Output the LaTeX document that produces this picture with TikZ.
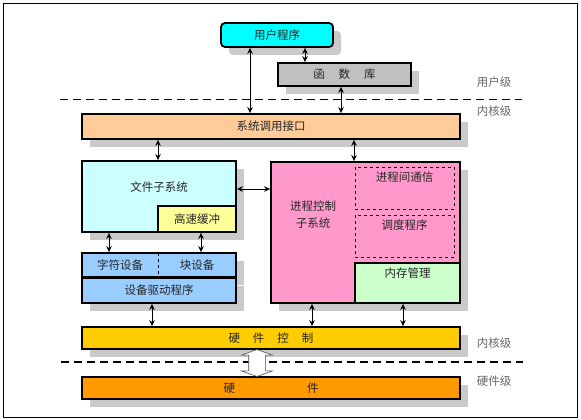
\documentclass[tikz,border=0pt]{standalone}
\usepackage{fontspec}
\setmainfont{Noto Sans CJK SC}
\usepackage{tikz}
\usetikzlibrary{arrows,shapes}
\usetikzlibrary{arrows.meta}
\usetikzlibrary{shapes.arrows}
\usetikzlibrary{shadows}
\definecolor{usercyan}{HTML}{00FFFF}
\definecolor{libgray}{HTML}{C0C0C0}
\definecolor{syspeach}{HTML}{FFCC99}
\definecolor{filecyan}{HTML}{CCFFFF}
\definecolor{cacheyellow}{HTML}{FFFF99}
\definecolor{procpink}{HTML}{FF99CC}
\definecolor{memgreen}{HTML}{CCFFCC}
\definecolor{devblue}{HTML}{99CCFF}
\definecolor{hwgold}{HTML}{FFCC00}
\definecolor{hworange}{HTML}{FF9900}
\definecolor{shadowgray}{HTML}{CACACA}
\tikzset{
	box/.style={draw=black, line width=1.8pt, inner sep=0pt,
		drop shadow={shadow xshift=8pt, shadow yshift=-8pt, fill=shadowgray, opacity=1}},
	innerbox/.style={draw=black, line width=1.8pt, inner sep=0pt},
	dashbox/.style={draw=black, dashed, line width=0.8pt, inner sep=0pt},
	toptext/.style={label={[anchor=north, inner sep=5pt, text=black!85]north:#1}},
	link/.style={{Stealth[length=6pt, width=5.5pt]}-{Stealth[length=6pt, width=5.5pt]}, line width=1pt},
	sepline/.style={line width=1.6pt, dash pattern=on 8pt off 5pt},
	level/.style={text=black!60},
}

\begin{document}
\begin{tikzpicture}[x=1pt, y=-1pt, font=\fontsize{11.5}{13}\selectfont, text=black!85]
		\useasboundingbox (0, 0) rectangle (581, 420);
		\draw [line width=0.8pt] (3, 3) rectangle (577, 417);
		% User level
		\node [box, rounded corners=4pt, fill=usercyan, minimum width=112pt, minimum height=24pt] (user) at (277, 35) {用户程序};
		\node [box, fill=libgray, minimum width=133pt, minimum height=23pt] (lib) at (344.5, 74.5) {函\hspace{14pt}数\hspace{14pt}库};
		\node [level] (ulevel) at (494, 82) {用户级};
		\draw [sepline] (60, 99.5) -- (522, 99.5);
		\node [level] (klevel) at (494, 111) {内核级};
		% System call interface
		\node [box, fill=syspeach, minimum width=378pt, minimum height=25pt] (sys) at (271, 126.5) {系统调用接口};
		% File subsystem
		\node [box, fill=filecyan, minimum width=154pt, minimum height=71pt] (file) at (159, 196.5) {};
		\node (filetext) at ([yshift=9.5pt]file.center) {文件子系统};
		\node [innerbox, fill=cacheyellow, minimum width=78pt, minimum height=26pt] (cache) at (197, 219) {高速缓冲};
		% Devices
		\node [box, fill=devblue, minimum width=154pt, minimum height=24pt] (devs) at (159, 265) {};
		\node [minimum width=76pt, minimum height=24pt, inner sep=0pt] (chardev) at (120, 265) {字符设备};
		\node (blockdev) at (197, 265) {块设备};
		\draw [dashed, line width=0.8pt] (chardev.north east) -- (chardev.south east);
		\node [box, fill=devblue, minimum width=154pt, minimum height=25pt] (driver) at (159, 290.5) {设备驱动程序};
		% Process control subsystem
		\node [box, fill=procpink, minimum width=189pt, minimum height=141pt] (proc) at (365.5, 232.5) {};
		\node [align=center] (proctext) at (313, 214.5) {进程控制\\[4pt]子系统};
		\node [dashbox, minimum width=99pt, minimum height=42pt, toptext=进程间通信] (ipc) at (404.5, 188) {};
		\node [dashbox, minimum width=99pt, minimum height=42pt, toptext=调度程序] (sched) at (404.5, 236) {};
		\node [innerbox, fill=memgreen, minimum width=105pt, minimum height=40pt, toptext=内存管理] (mem) at (407.5, 283) {};
		% Hardware control
		\node [box, fill=hwgold, minimum width=378pt, minimum height=22pt] (hwctrl) at (271, 338) {硬\hspace{13pt}件\hspace{13pt}控\hspace{13pt}制};
		\node [level] (klevel2) at (494, 343) {内核级};
		\draw [sepline] (61, 362) -- (523, 362);
		\node [level] (hwlevel) at (494, 381) {硬件级};
		% Hardware
		\node [box, fill=hworange, minimum width=378pt, minimum height=22pt] (hw) at (271, 388) {硬\hspace{72pt}件};
		% Links
		\draw [link] ([xshift=-27pt]user.south) -- ([xshift=-21pt]sys.north);
		\draw [link] ([xshift=28pt]user.south) -- ([xshift=-39.5pt]lib.north);
		\draw [link] ([xshift=-3.5pt]lib.south) -- ([xshift=70pt]sys.north);
		\draw [link] ([xshift=-113pt]sys.south) -- ([xshift=-1pt]file.north);
		\draw [link] ([xshift=83pt]sys.south) -- ([xshift=-11.5pt]proc.north);
		\draw [link] ([yshift=7.5pt]file.east) -- ([yshift=43.5pt]proc.west);
		\draw [link] ([xshift=-50pt]file.south) -- ([xshift=-50pt]devs.north);
		\draw [link] ([xshift=4pt]cache.south) -- ([xshift=42pt]devs.north);
		\draw [link] ([xshift=-7pt]driver.south) -- ([xshift=-119pt]hwctrl.north);
		\draw [link] ([xshift=-53.5pt]proc.south) -- ([xshift=41pt]hwctrl.north);
		\draw [link] ([xshift=-4.5pt]mem.south) -- ([xshift=132pt]hwctrl.north);
		% Hardware access
		\node [double arrow, draw=black!70, fill=white, line width=0.6pt, rotate=90, inner sep=8pt,
			minimum height=27pt, double arrow head extend=7pt, double arrow tip angle=140] (access) at (257, 363) {};
\end{tikzpicture}
\end{document}
